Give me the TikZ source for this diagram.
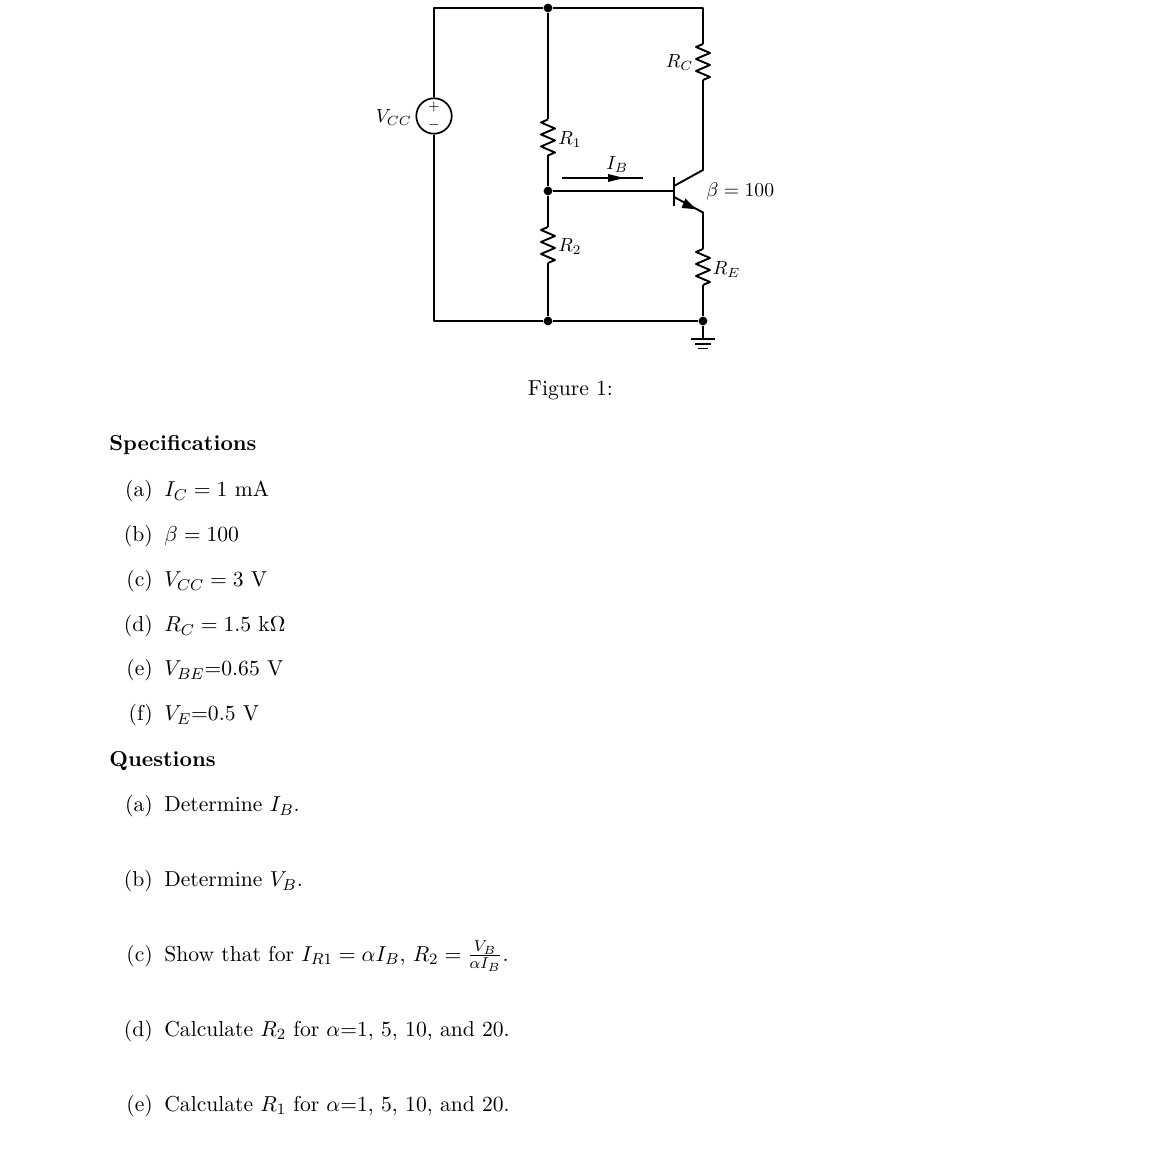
\documentclass[tikz,border=0pt]{standalone}
\newcommand{\itemlab}[1]{\llap{#1\hspace{5.9pt}}}
\begin{document}
\begin{tikzpicture}[x=0.525pt,y=-0.525pt,
  wire/.style={line width=1pt,line join=round},
  dotnode/.style={circle,fill=black,inner sep=0pt,minimum size=4.6pt},
  lbl/.style={inner sep=0pt,anchor=base west},
  txt/.style={inner sep=0pt,anchor=base west,scale=1.036,font=\fontsize{10.95}{13.6}\selectfont},
  zig/.pic={\draw[wire] (0,0) -- (-7,3) -- (7,9) -- (-7,15) -- (7,21) -- (-7,27) -- (7,33) -- (0,36);}]
\useasboundingbox (0,0) rectangle (1170,1159);
\fill[white] (0,0) rectangle (1170,1159);
% junctions and corners
\coordinate (tl) at (434,8);
\coordinate (tr) at (703,8);
\coordinate (bl) at (434,321);
\node[dotnode] (jt) at (548,8) {};
\node[dotnode] (jm) at (548,191) {};
\node[dotnode] (jb) at (548,321) {};
\node[dotnode] (jg) at (703,321) {};
% source
\node[circle,draw,line width=0.9pt,minimum size=18.6pt,inner sep=0pt] (vcc) at (434,116) {};
\node[inner sep=0pt,font=\scriptsize] (plus) at (434,107) {$+$};
\node[inner sep=0pt,font=\scriptsize] (minus) at (434,125) {$-$};
% resistor ends
\coordinate (r1a) at (548,119.5); \coordinate (r1b) at (548,155.5);
\coordinate (r2a) at (548,227); \coordinate (r2b) at (548,263);
\coordinate (rca) at (703,44); \coordinate (rcb) at (703,80);
\coordinate (rea) at (703,249); \coordinate (reb) at (703,285);
\pic at (r1a) {zig}; \pic at (r2a) {zig}; \pic at (rca) {zig}; \pic at (rea) {zig};
% transistor
\coordinate (bar1) at (674,177.5); \coordinate (bar2) at (674,206);
\coordinate (base) at (674,191);
\coordinate (cin) at (674,186); \coordinate (cout) at (703,170);
\coordinate (ein) at (674,197); \coordinate (eout) at (703,212.5);
\draw[wire] (bar1) -- (bar2);
\draw[wire] (cin) -- (cout) -- (rcb);
\draw[wire] (ein) -- (eout) -- (rea);
\fill (696,209.2) -- (681.5,208) -- (685.5,198.5) -- cycle;
% wires
\draw[wire] (vcc.north) -- (tl) -- (jt) -- (tr) -- (rca);
\draw[wire] (vcc.south) -- (bl) -- (jb) -- (jg);
\draw[wire] (jt) -- (r1a);
\draw[wire] (r1b) -- (jm) -- (r2a);
\draw[wire] (r2b) -- (jb);
\draw[wire] (jm) -- (base);
\draw[wire] (reb) -- (jg);
% ground
\coordinate (g0) at (703,339);
\draw[wire] (jg) -- (g0);
\coordinate (g1a) at (691,339); \coordinate (g1b) at (715,339);
\coordinate (g2a) at (695,344); \coordinate (g2b) at (711,344);
\coordinate (g3a) at (698,348.5); \coordinate (g3b) at (708,348.5);
\draw[wire] (g1a) -- (g1b); \draw[wire] (g2a) -- (g2b); \draw[wire] (g3a) -- (g3b);
% current arrow
\coordinate (ia) at (562,178); \coordinate (ib) at (643,178);
\draw[line width=0.7pt] (ia) -- (ib);
\fill (624,178) -- (608,174) -- (608,182) -- cycle;
% circuit labels
\node[lbl] (lvcc) at (375.5,123) {$V_{CC}$};
\node[lbl] (lr1) at (558,145) {$R_1$};
\node[lbl] (lr2) at (558,252) {$R_2$};
\node[lbl] (lrc) at (665.5,68) {$R_C$};
\node[lbl] (lre) at (712.5,275) {$R_E$};
\node[lbl] (lib) at (606,170) {$I_B$};
\node[lbl,scale=1.03] (lbeta) at (706,197) {$\beta=100$};
\node[txt] (fig) at (527.5,396) {Figure 1:};
% text
\node[txt] (spec) at (109,451) {\textbf{Specifications}};
\node[txt] (s1) at (164,497) {\itemlab{(a)}$I_C=1$ mA};
\node[txt] (s2) at (164,542) {\itemlab{(b)}$\beta=100$};
\node[txt] (s3) at (164,587) {\itemlab{(c)}$V_{CC}=3$ V};
\node[txt] (s4) at (164,632) {\itemlab{(d)}$R_C=1.5$ k$\Omega$};
\node[txt] (s5) at (164,676) {\itemlab{(e)}$V_{BE}$=0.65 V};
\node[txt] (s6) at (164,721) {\itemlab{(f)}$V_E$=0.5 V};
\node[txt] (q) at (109,767) {\textbf{Questions}};
\node[txt] (q1) at (164,812) {\itemlab{(a)}Determine $I_B$.};
\node[txt] (q2) at (164,887) {\itemlab{(b)}Determine $V_B$.};
\node[txt] (q3) at (164,961) {\itemlab{(c)}Show that for $I_{R1}=\alpha I_B$, $R_2=\frac{V_B}{\alpha I_B}$.};
\node[txt] (q4) at (164,1036) {\itemlab{(d)}Calculate $R_2$ for $\alpha$=1, 5, 10, and 20.};
\node[txt] (q5) at (164,1111) {\itemlab{(e)}Calculate $R_1$ for $\alpha$=1, 5, 10, and 20.};
\end{tikzpicture}
\end{document}
